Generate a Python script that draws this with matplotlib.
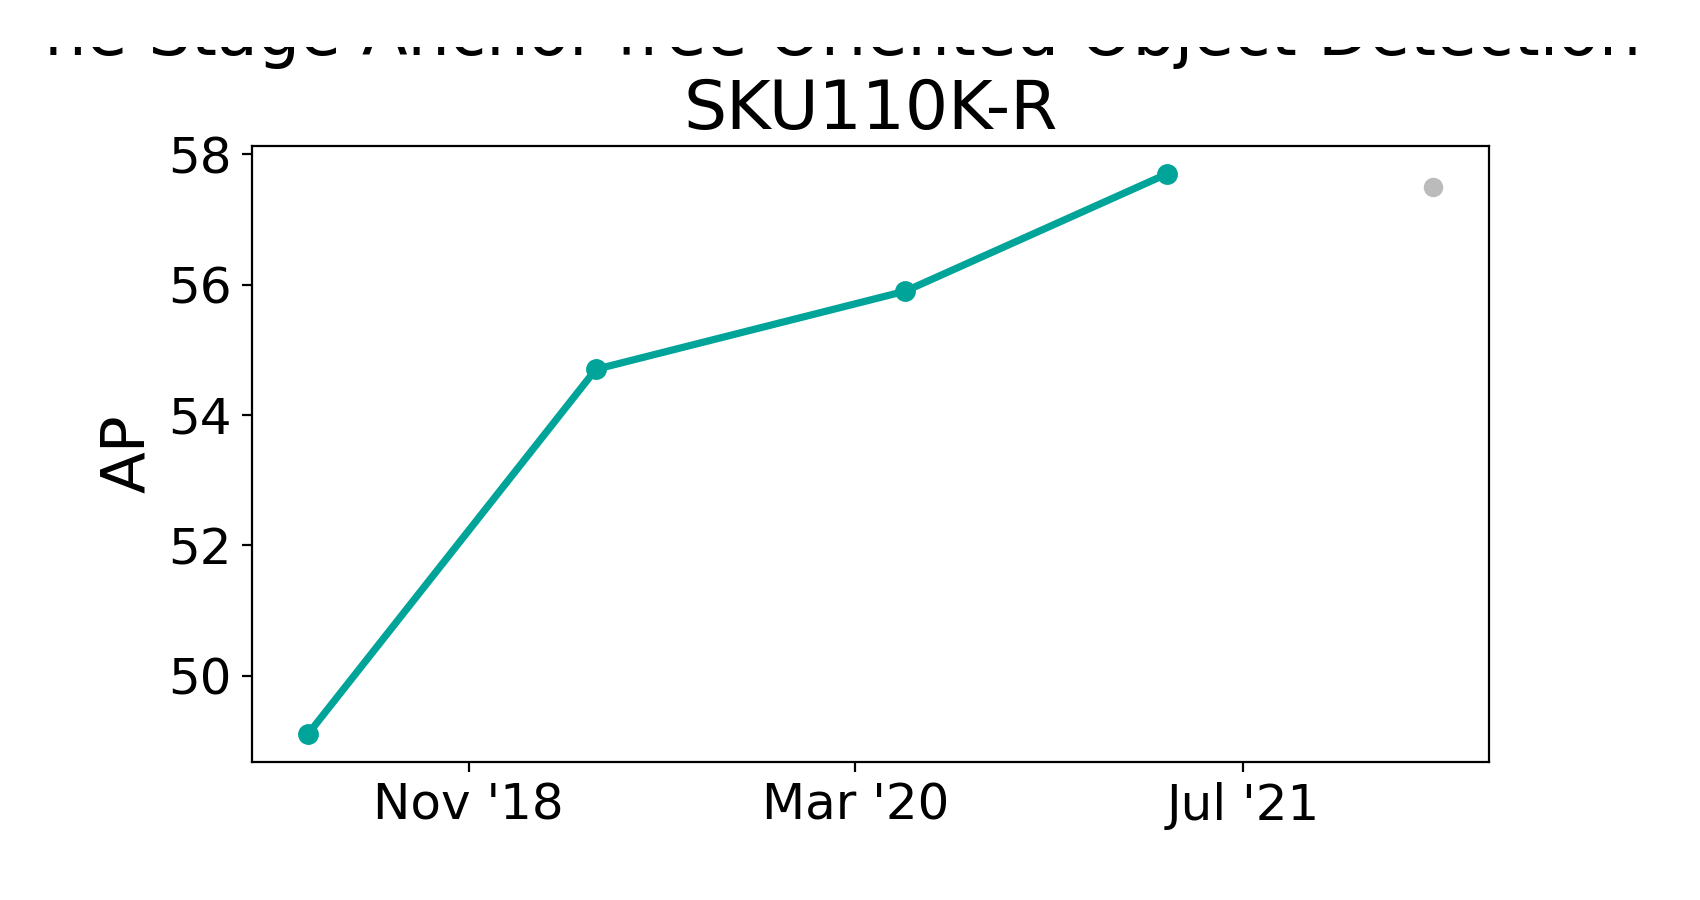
import numpy as np
import matplotlib
matplotlib.use("Agg")
from matplotlib import pyplot as plt
import matplotlib.dates as mdates
from matplotlib.transforms import Bbox, TransformedBbox

# --- data ---
sota_dates = np.array(["2018-04-13", "2019-04-10", "2020-05-03", "2021-03-28"], dtype="datetime64[D]")
sota_ap = [49.1, 54.7, 55.9, 57.7]
other_dates = np.array(["2022-02-25"], dtype="datetime64[D]")
other_ap = [57.5]
tick_dates = np.array(["2018-11-01", "2020-03-01", "2021-07-01"], dtype="datetime64[D]")

task_name = "One Stage Anchor-free Oriented Object Detection"
dataset_name = "SKU110K-R"

fig = plt.figure(figsize=(8.5, 4.5), dpi=200)
ax = fig.add_axes([0.148, 0.153, 0.728, 0.685])

ax.plot(other_dates, other_ap, "o", color="#bbbbbb", markersize=6)
ax.plot(sota_dates, sota_ap, "-o", color="#00a498", linewidth=2.6, markersize=6.5)

ax.set_xticks(tick_dates)
ax.xaxis.set_major_formatter(mdates.DateFormatter("%b '%y"))
ax.tick_params(labelsize=18)
ax.set_ylabel("AP", fontsize=22)
ax.set_title(dataset_name, fontsize=24.5)

# first title line runs off the canvas in the reference, only its lower part shows
visible = TransformedBbox(Bbox([[48 / 1700, 0], [1, 1 - 47 / 900]]), fig.transFigure)
fig.text(0.4806, 1 - 55 / 900, task_name, fontsize=24, ha="center", va="baseline",
         clip_box=visible, clip_on=True)

fig.savefig("out.png", dpi=200)
